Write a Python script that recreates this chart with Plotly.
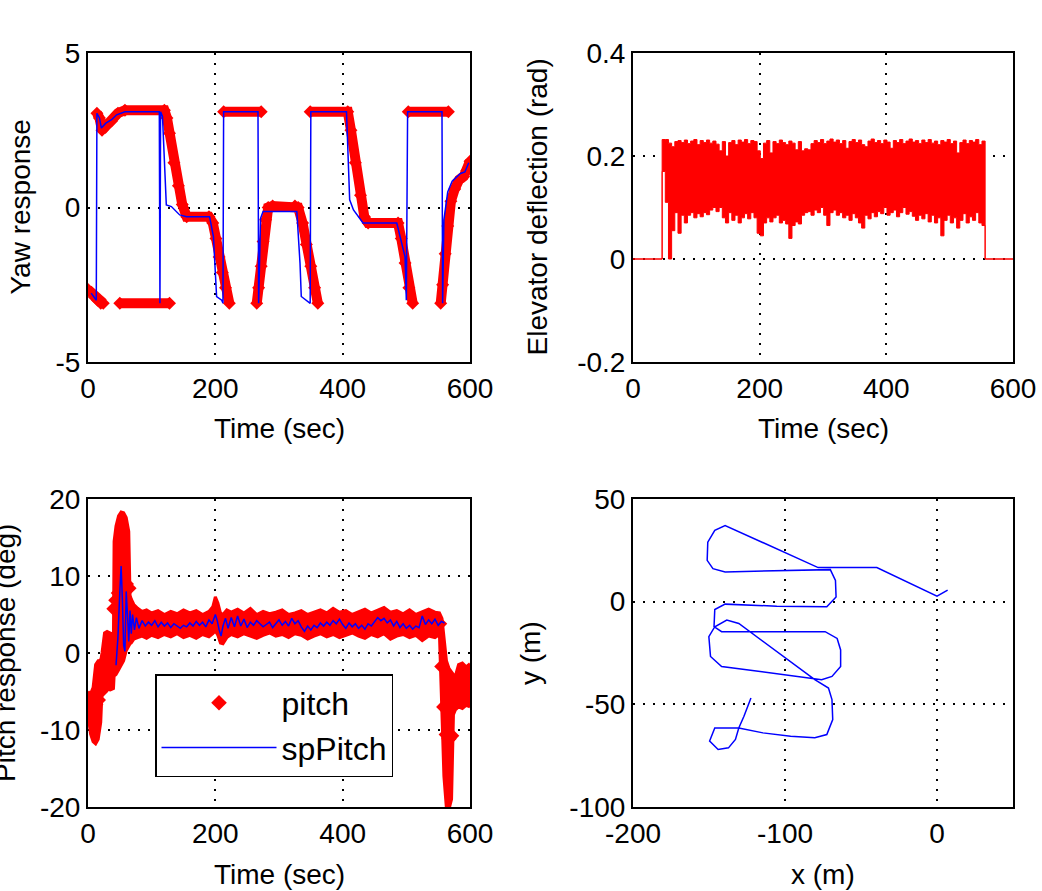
import plotly.graph_objects as go

# ---------------- data ----------------
# Yaw response (top-left): red = measured yaw (markers, segments split by None), blue = set-point
yaw_red_t = [0, 5, 10, 15, 20, 24, None,
             14, 18, 22, 28, 37, 47, 58, 120, 124, 128, 135, 142, 148, 155, 190, 196, 201, 206, 211, 216, 222, None,
             50, 128, None,
             213, 272, None,
             265, 268, 272, 275, 279, 283, 290, 325, 330, 337, 343, 350, 356, 361, None,
             349, 408, 413, 420, 428, 434, 440, 487, 492, 498, 504, 510, None,
             503, 566, None,
             554, 557, 561, 565, 570, 576, 583, 590, 595, 600]
yaw_red_v = [-2.65, -2.75, -2.9, -3.0, -3.1, -3.1, None,
             3.05, 2.9, 2.5, 2.65, 2.8, 3.05, 3.15, 3.15, 2.9, 2.4, 1.45, 0.7, 0.1, -0.3, -0.3, -0.5, -1.0, -1.6, -2.1, -2.6, -3.1, None,
             -3.1, -3.1, None,
             3.1, 3.1, None,
             -3.1, -2.6, -1.9, -1.1, -0.4, 0.0, 0.05, 0.05, 0.0, -0.5, -1.2, -1.9, -2.6, -3.1, None,
             3.1, 3.1, 2.5, 1.45, 0.4, -0.3, -0.5, -0.5, -1.0, -1.8, -2.6, -3.1, None,
             3.1, 3.1, None,
             -3.1, -2.5, -1.5, -0.6, 0.2, 0.6, 0.9, 1.0, 1.2, 1.5]
yaw_sp_t = [5, 9, 13, 14, 18, 21, 28, 37, 45, 58, 112, 113, 114, 117, 123, 131, 144, 155, 191, 197,
            202, 210, 212, 213, 267, 268, 271, 275, 328, 333, 335, 349, 350, 406, 411, 417, 432, 485, 490, 498,
            500, 502, 556, 557, 559, 565, 572, 585, 592, 598]
yaw_sp_v = [-2.77, -2.88, -3.0, 3.05, 2.9, 2.57, 2.73, 2.84, 3.0, 3.1, 3.1, -3.1, 3.1, 2.95, 0.08, 0.03, -0.24, -0.3, -0.3, -0.94,
            -2.88, -3.0, -3.1, 3.1, 3.1, -3.1, -0.35, -0.13, -0.13, -1.8, -2.88, -3.1, 3.1, 3.1, 0.25, -0.08, -0.5, -0.5, -0.94, -1.6,
            -3.0, 3.1, 3.1, -3.1, -0.4, 0.5, 0.85, 1.1, 1.15, 1.45]

# Elevator deflection (top-right): upper and lower envelope of the red trace
elev_t = [0, 46, 51, 56, 61, 66, 71, 76, 81, 86, 91, 96, 101, 106, 111, 116, 121, 126, 131, 136, 141,
          146, 151, 156, 161, 166, 171, 176, 181, 186, 191, 196, 201, 206, 211, 216, 221, 226, 231, 236, 241,
          246, 251, 256, 261, 266, 271, 276, 281, 286, 291, 296, 301, 306, 311, 316, 321, 326, 331, 336, 341,
          346, 351, 356, 361, 366, 371, 376, 381, 386, 391, 396, 401, 406, 411, 416, 421, 426, 431, 436, 441,
          446, 451, 456, 461, 466, 471, 476, 481, 486, 491, 496, 501, 506, 511, 516, 521, 526, 531, 536, 541,
          546, 551, 556, 600]
elev_hi = [0,
           0.232, 0.232, 0.225, 0.218, 0.228, 0.230, 0.226, 0.231, 0.224, 0.229,
           0.232, 0.222, 0.230, 0.226, 0.231, 0.225, 0.229, 0.223, 0.210, 0.228,
           0.200, 0.226, 0.230, 0.222, 0.231, 0.227, 0.232, 0.224, 0.230, 0.228,
           0.210, 0.195, 0.225, 0.230, 0.206, 0.228, 0.224, 0.231, 0.226, 0.222,
           0.229, 0.225, 0.212, 0.228, 0.210, 0.214, 0.212, 0.224, 0.230, 0.226,
           0.232, 0.224, 0.229, 0.233, 0.227, 0.231, 0.224, 0.230, 0.215, 0.228,
           0.232, 0.226, 0.231, 0.222, 0.218, 0.229, 0.233, 0.226, 0.230, 0.224,
           0.231, 0.227, 0.215, 0.230, 0.226, 0.232, 0.224, 0.229, 0.233, 0.227,
           0.230, 0.224, 0.231, 0.226, 0.232, 0.225, 0.229, 0.222, 0.230, 0.227,
           0.232, 0.224, 0.229, 0.206, 0.226, 0.231, 0.224, 0.230, 0.227, 0.232,
           0.222, 0.229,
           0, 0]
elev_lo = [0,
           0.17, 0.11, 0.0, 0.055, 0.09, 0.05, 0.085, 0.07, 0.085, 0.09,
           0.08, 0.088, 0.082, 0.09, 0.086, 0.095, 0.10, 0.092, 0.10, 0.08,
           0.07, 0.09, 0.075, 0.085, 0.07, 0.08, 0.088, 0.078, 0.09, 0.08,
           0.05, 0.045, 0.07, 0.08, 0.072, 0.08, 0.085, 0.07, 0.075, 0.068,
           0.04, 0.065, 0.072, 0.068, 0.085, 0.09, 0.092, 0.085, 0.095, 0.09,
           0.10, 0.085, 0.065, 0.09, 0.095, 0.085, 0.09, 0.08, 0.085, 0.075,
           0.088, 0.08, 0.07, 0.06, 0.085, 0.078, 0.09, 0.082, 0.092, 0.088,
           0.10, 0.085, 0.09, 0.095, 0.082, 0.09, 0.10, 0.087, 0.092, 0.083,
           0.075, 0.085, 0.078, 0.088, 0.072, 0.085, 0.07, 0.08, 0.045, 0.075,
           0.085, 0.07, 0.08, 0.06, 0.075, 0.088, 0.07, 0.082, 0.075, 0.09,
           0.07, 0.065,
           0, 0]

# Pitch response (bottom-left): red band envelope + blue set-point
pitch_t = [0, 4, 8, 12, 16, 20, 22, 26, 30, 35, 40, 41, 44, 48, 52, 56, 60, 64, 66, 68, 72, 78, 85, 92,
           100, 110, 120, 130, 140, 150, 160, 170, 180, 190, 196, 200, 204, 208, 212, 218, 225, 235, 245,
           255, 265, 275, 285, 295, 305, 315, 325, 335, 345, 355, 365, 375, 385, 395, 405, 415, 425, 435,
           445, 455, 465, 475, 485, 495, 505, 515, 525, 535, 545, 552, 556, 559, 563, 567, 571, 574, 577,
           582, 588, 594, 600]
pitch_hi = [-5.0, -5.3, -4.5, -1.5, -1.0, -1.0, 0.0, 2.6, 2.8, 2.6, 2.4, 14.5, 16.5, 17.8, 18.3, 18.2,
            17.6, 15.8, 7.5, 7.0, 6.3, 5.8, 5.4, 5.6, 5.2, 5.5, 5.0, 5.4, 5.1, 5.6, 5.2, 5.5, 5.0, 5.4, 6.0,
            7.3, 6.5, 5.2, 5.0, 5.6, 5.3, 5.7, 5.2, 5.8, 5.0, 5.4, 5.1, 5.3, 5.6, 5.0, 5.2, 5.5, 5.0, 5.3,
            5.6, 5.2, 5.8, 5.3, 5.5, 5.0, 5.4, 5.7, 5.2, 5.6, 5.9, 5.3, 5.5, 5.1, 5.6, 5.0, 5.4, 5.7, 5.3,
            5.2, 4.5, 2.0, -1.0, -2.0, -2.5, -2.8, -3.0, -1.5, -1.3, -1.8, -1.4]
pitch_lo = [-8.0, -10.5, -11.5, -11.8, -11.2, -9.0, -5.0, -4.8, -4.7, -4.8, -4.6, -3.0, -2.8, -2.2, -1.6,
            -1.0, 0.3, 1.0, 1.2, 1.3, 1.8, 2.0, 2.2, 1.9, 2.3, 2.0, 2.4, 2.1, 2.5, 2.0, 2.3, 1.9, 2.4, 2.1,
            2.5, 2.9, 2.3, 1.3, 1.2, 2.0, 2.4, 2.1, 2.5, 2.2, 1.9, 2.3, 2.6, 2.2, 2.4, 2.0, 2.5, 2.3, 1.8,
            2.2, 2.5, 2.1, 2.4, 2.0, 2.3, 2.6, 2.2, 1.9, 2.4, 2.1, 2.5, 1.8, 2.2, 2.4, 2.0, 2.3, 1.6, 2.2,
            2.0, 2.4, -8.0, -16.0, -20.2, -20.3, -19.0, -8.0, -7.4, -7.0, -7.2, -6.8, -7.0]
sp_t = [44, 47, 50, 52, 54, 56, 58, 60, 62, 64, 66, 68, 70, 73, 76, 80, 85, 90, 95, 100, 105, 110, 115,
        120, 125, 130, 135, 140, 145, 150, 155, 160, 165, 170, 175, 180, 185, 190, 195, 200, 203, 206, 209,
        212, 216, 220, 225, 230, 235, 240, 245, 250, 255, 260, 265, 270, 275, 280, 285, 290, 295, 300, 305,
        310, 315, 320, 325, 330, 335, 340, 345, 350, 355, 360, 365, 370, 375, 380, 385, 390, 395, 400, 405,
        410, 415, 420, 425, 430, 435, 440, 445, 450, 455, 460, 465, 470, 475, 480, 485, 490, 495, 500, 505,
        510, 515, 520, 525, 530, 535, 540, 545, 550, 555, 560]
sp_v = [-1.6, 2.0, 8.0, 11.3, 7.0, 1.0, 0.2, 8.0, 5.0, 1.5, 5.5, 2.5, 5.0, 3.0, 4.6, 3.2, 4.2, 3.5, 4.0,
        3.6, 4.2, 3.4, 4.0, 3.5, 3.9, 3.3, 3.8, 3.5, 3.2, 3.6, 3.4, 3.9, 3.5, 4.1, 3.6, 4.0, 3.4, 4.3, 3.8,
        5.0, 4.2, 3.0, 2.2, 3.5, 4.5, 3.2, 4.6, 3.4, 4.8, 3.5, 4.4, 3.3, 4.0, 3.6, 4.2, 3.8, 3.4, 3.7, 4.0,
        3.3, 3.8, 4.3, 3.6, 4.1, 3.5, 4.5, 3.8, 4.2, 3.4, 2.8, 3.5, 3.0, 3.6, 3.3, 3.9, 3.5, 4.0, 3.6, 4.2,
        3.8, 4.4, 3.7, 3.2, 3.9, 3.4, 3.8, 3.2, 3.6, 3.1, 3.8, 3.5, 4.0, 4.6, 4.2, 4.5, 3.9, 4.3, 3.5, 4.1,
        3.3, 3.8, 3.2, 3.6, 3.1, 3.5, 3.3, 4.8, 3.7, 4.3, 3.8, 4.4, 3.6, 4.1, 3.9]

# Trajectory (bottom-right)
traj_x = [7, 0, -39.6, -78.2, -139.4, -146.2, -150.8, -151.2, -147.4, -139.4, -70.2, -66.8, -66.4, -72.5,
          -105.4, -139.4, -146.2, -146.7, -141.7, -73.6, -65.7, -63.4, -63.4, -69.1, -75.9, -100.9, -128.1,
          -141.7, -149.0, -150.1, -146.2, -138.3, -130.4, -80.4, -71.4, -69.1, -68.6, -72.5, -80.4, -96.3,
          -114.5, -130.4, -146.2, -149.6, -144.0, -137.2, -132.6, -130.4, -127.0, -122.4]
traj_y = [5.6, 2.7, 16.6, 16.6, 37.1, 34.7, 29.0, 20.1, 16.1, 14.5, 15.6, 10.4, 2.3, -2.5, -2.2, -1.2,
          -3.8, -12.2, -14.6, -14.6, -17.9, -23.5, -31.6, -36.4, -38.0, -35.6, -33.2, -31.6, -26.7, -17.0,
          -12.2, -9.0, -10.6, -38.0, -42.1, -47.7, -57.4, -64.7, -66.3, -65.5, -63.9, -61.5, -61.5, -67.9,
          -72.0, -71.2, -67.1, -61.5, -55.8, -46.9]

# tick labels
time_ticks = [0, 200, 400, 600]
time_ticktext = ['0', '200', '400', '600']
yaw_ticks = [-5, 0, 5]
yaw_ticktext = ['-5', '0', '5']
elev_ticks = [-0.2, 0, 0.2, 0.4]
elev_ticktext = ['-0.2', '0', '0.2', '0.4']
pitch_ticks = [-20, -10, 0, 10, 20]
pitch_ticktext = ['-20', '-10', '0', '10', '20']
tx_ticks = [-200, -100, 0]
tx_ticktext = ['-200', '-100', '0']
ty_ticks = [-100, -50, 0, 50]
ty_ticktext = ['-100', '-50', '0', '50']

# ---------------- figure ----------------
RED = '#ff0000'
BLUE = '#0000ff'
FONT = 'Liberation Sans, Arial, Helvetica, sans-serif'
W, H = 1042, 891

fig = go.Figure()

# top-left: yaw
fig.add_trace(go.Scatter(x=yaw_red_t, y=yaw_red_v, mode='lines+markers', connectgaps=False,
                         line=dict(color=RED, width=10), marker=dict(symbol='diamond', size=10, color=RED),
                         showlegend=False, xaxis='x', yaxis='y'))
fig.add_trace(go.Scatter(x=yaw_sp_t, y=yaw_sp_v, mode='lines', line=dict(color=BLUE, width=1.5),
                         showlegend=False, xaxis='x', yaxis='y'))

# top-right: elevator
fig.add_trace(go.Scatter(x=elev_t, y=elev_lo, mode='lines', line=dict(color=RED, width=1, shape='hv'),
                         showlegend=False, xaxis='x2', yaxis='y2'))
fig.add_trace(go.Scatter(x=elev_t, y=elev_hi, mode='lines', line=dict(color=RED, width=1, shape='hv'),
                         fill='tonexty', fillcolor=RED, showlegend=False, xaxis='x2', yaxis='y2'))

# bottom-left: pitch
pitch_mid = [(a + b) / 2 for a, b in zip(pitch_hi, pitch_lo)]
fig.add_trace(go.Scatter(x=pitch_t, y=pitch_lo, mode='lines', line=dict(color=RED, width=3),
                         showlegend=False, xaxis='x3', yaxis='y3'))
fig.add_trace(go.Scatter(x=pitch_t, y=pitch_hi, mode='lines', line=dict(color=RED, width=3),
                         fill='tonexty', fillcolor=RED, showlegend=False, xaxis='x3', yaxis='y3'))
fig.add_trace(go.Scatter(x=pitch_t, y=pitch_mid, mode='markers', name='pitch',
                         marker=dict(symbol='diamond', size=12, color=RED), xaxis='x3', yaxis='y3'))
fig.add_trace(go.Scatter(x=sp_t, y=sp_v, mode='lines', name='spPitch', line=dict(color=BLUE, width=1.5),
                         xaxis='x3', yaxis='y3'))

# bottom-right: trajectory
fig.add_trace(go.Scatter(x=traj_x, y=traj_y, mode='lines', line=dict(color=BLUE, width=1.5),
                         showlegend=False, xaxis='x4', yaxis='y4'))

XL = [88 / W, 470 / W]
XR = [633 / W, 1013 / W]
YT = [1 - 362 / H, 1 - 53 / H]
YB = [1 - 807 / H, 1 - 499 / H]

common = dict(showline=True, linecolor='black', linewidth=2, mirror=True,
              showgrid=True, gridcolor='black', griddash='2px,8px', gridwidth=1.5,
              zeroline=False, ticks='', automargin=False, fixedrange=True,
              tickfont=dict(size=28, color='black', family=FONT))

fig.update_layout(
    width=W, height=H,
    margin=dict(l=0, r=0, t=0, b=0),
    paper_bgcolor='white', plot_bgcolor='white',
    font=dict(family=FONT, color='black'),
    xaxis=dict(domain=XL, anchor='y', range=[0, 600], tickvals=time_ticks, ticktext=time_ticktext, **common),
    yaxis=dict(domain=YT, anchor='x', range=[-5, 5], tickvals=yaw_ticks, ticktext=yaw_ticktext, **common),
    xaxis2=dict(domain=XR, anchor='y2', range=[0, 600], tickvals=time_ticks, ticktext=time_ticktext, **common),
    yaxis2=dict(domain=YT, anchor='x2', range=[-0.2, 0.4], tickvals=elev_ticks, ticktext=elev_ticktext, **common),
    xaxis3=dict(domain=XL, anchor='y3', range=[0, 600], tickvals=time_ticks, ticktext=time_ticktext, **common),
    yaxis3=dict(domain=YB, anchor='x3', range=[-20, 20], tickvals=pitch_ticks, ticktext=pitch_ticktext, **common),
    xaxis4=dict(domain=XR, anchor='y4', range=[-200, 50], tickvals=tx_ticks, ticktext=tx_ticktext, **common),
    yaxis4=dict(domain=YB, anchor='x4', range=[-100, 50], tickvals=ty_ticks, ticktext=ty_ticktext, **common),
    legend=dict(x=155 / W, y=1 - 674 / H, xanchor='left', yanchor='top', bgcolor='white',
                bordercolor='black', borderwidth=1.5, font=dict(size=32, family=FONT, color='black'),
                itemwidth=115, tracegroupgap=0, traceorder='normal'),
    showlegend=True,
)

title_font = dict(size=28, family=FONT, color='black')
titles = [
    ('Yaw response', 20 / W, 1 - 207.5 / H, -90),
    ('Elevator deflection (rad)', 537 / W, 1 - 207.5 / H, -90),
    ('Pitch response (deg)', 5 / W, 1 - 653 / H, -90),
    ('y (m)', 530 / W, 1 - 653 / H, -90),
    ('Time (sec)', (88 + 470) / 2 / W, 1 - 428 / H, 0),
    ('Time (sec)', (633 + 1013) / 2 / W, 1 - 428 / H, 0),
    ('Time (sec)', (88 + 470) / 2 / W, 1 - 874 / H, 0),
    ('x (m)', (633 + 1013) / 2 / W, 1 - 874 / H, 0),
]
for text, x, y, ang in titles:
    fig.add_annotation(text=text, x=x, y=y, xref='paper', yref='paper', showarrow=False,
                       textangle=ang, xanchor='center', yanchor='middle', font=title_font)

fig.write_html('out.html')
